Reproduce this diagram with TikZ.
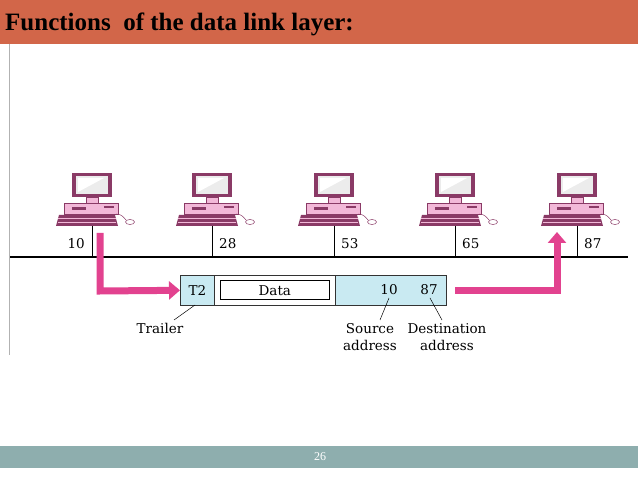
\documentclass[tikz,border=0pt]{standalone}
\usepackage{fontspec}
\setmainfont{Liberation Serif}
\newfontfamily\lblfont{DejaVu Serif}
\usetikzlibrary{arrows.meta}
\definecolor{titlebar}{HTML}{D26649}
\definecolor{footbar}{HTML}{8EAEAE}
\definecolor{pc}{HTML}{F2B8D8}
\definecolor{pcdark}{HTML}{8A3A66}
\definecolor{arrowpink}{HTML}{E2428F}
\definecolor{cell}{HTML}{C9EAF2}
\tikzset{
  lbl/.style={font=\lblfont\fontsize{13.5}{15}\selectfont, inner sep=0pt},
  cellbox/.style={draw=black!80, line width=0.6pt},
  flow/.style={draw=arrowpink, line width=7pt, line join=miter, -{Triangle[width=18pt,length=11pt]}},
  pointer/.style={draw=black, line width=0.5pt},
  pc/.pic={
    \fill[pcdark] (-20,173) rectangle (20,197);
    \fill[gray!15] (-16,176) rectangle (16,194);
    \fill[white] (-14,178) -- (12,178) -- (-14,192) -- cycle;
    \fill[pc,draw=pcdark,line width=0.5pt] (-6,197) rectangle (6,203);
    \fill[pc,draw=pcdark,line width=0.5pt] (-28,203) rectangle (26,214);
    \fill[pcdark] (-20,207) rectangle (-6,210);
    \fill[pcdark] (12,206) rectangle (22,208);
    \fill[pcdark] (-36,226) -- (26,226) -- (23,215) -- (-33,215) -- cycle;
    \foreach \yy in {218.5,222}{\draw[pc,line width=0.4pt] (-34,\yy) -- (24,\yy);}
    \draw[pcdark,line width=0.5pt] (24,214) .. controls (30,214) and (32,218) .. (34,220);
    \draw[pcdark,fill=white,line width=0.5pt] (38,222) ellipse (4.5 and 2.5);
  }
}
\begin{document}
\begin{tikzpicture}[x=1pt,y=-1pt]
\useasboundingbox (0,0) rectangle (638,478);
\fill[titlebar] (0,0) rectangle (638,44);
\node[anchor=west, inner sep=0pt, font=\bfseries\fontsize{25}{28}\selectfont] (title) at (5,24) {Functions\ \ of the data link layer:};
\draw[gray!60, line width=0.6pt] (9,44) -- (9,355);
\fill[footbar] (0,446) rectangle (638,468);
\node[text=white, font=\fontsize{12}{13}\selectfont] (page) at (320,457) {26};

% bus
\draw[line width=1.8pt] (10,257) coordinate (busL) -- (628,257) coordinate (busR);
\foreach \n/\xx in {a/92,b/212,c/334,d/455,e/577}{
  \pic at (\xx,0) {pc};
  \coordinate (\n top) at (\xx,226);
  \coordinate (\n bus) at (\xx,257);
  \draw[line width=0.8pt] (\n top) -- (\n bus);
}
\node[lbl, anchor=east] (l10) at (85,244) {10};
\node[lbl, anchor=west] (l28) at (219,244) {28};
\node[lbl, anchor=west] (l53) at (341,244) {53};
\node[lbl, anchor=west] (l65) at (462,244) {65};
\node[lbl, anchor=west] (l87) at (584,244) {87};

% frame
\node[cellbox, fill=cell, minimum width=34pt, minimum height=30pt, inner sep=0pt, anchor=north west] (t2) at (180,275) {};
\node[lbl] at (t2) {T2};
\node[cellbox, fill=white, minimum width=121pt, minimum height=30pt, inner sep=0pt, anchor=north west] (data) at (214,275) {};
\node[draw=black, line width=0.6pt, minimum width=109pt, minimum height=19pt, inner sep=0pt, lbl] (datain) at (data) {Data};
\node[cellbox, fill=cell, minimum width=111pt, minimum height=30pt, inner sep=0pt, anchor=north west] (addr) at (335,275) {};
\node[lbl] (src) at (389,290) {10};
\node[lbl] (dst) at (429,290) {87};

\node[lbl] (trailer) at (160,328) {Trailer};
\node[lbl, align=center] (srcl) at (370,337) {Source\\[2pt]address};
\node[lbl, align=center] (dstl) at (447,337) {Destination\\[2pt]address};
\draw[pointer] (195,305) -- (174,320);
\draw[pointer] (389,298) -- (380,320);
\draw[pointer] (430,298) -- (442,320);

% arrows
\coordinate (arrS) at (100,233);
\draw[flow] (arrS) -- (100,291) -- (t2.west);
\coordinate (arrE) at (557,232);
\draw[flow] (455,291) -- (557,291) -- (arrE);
\end{tikzpicture}
\end{document}
